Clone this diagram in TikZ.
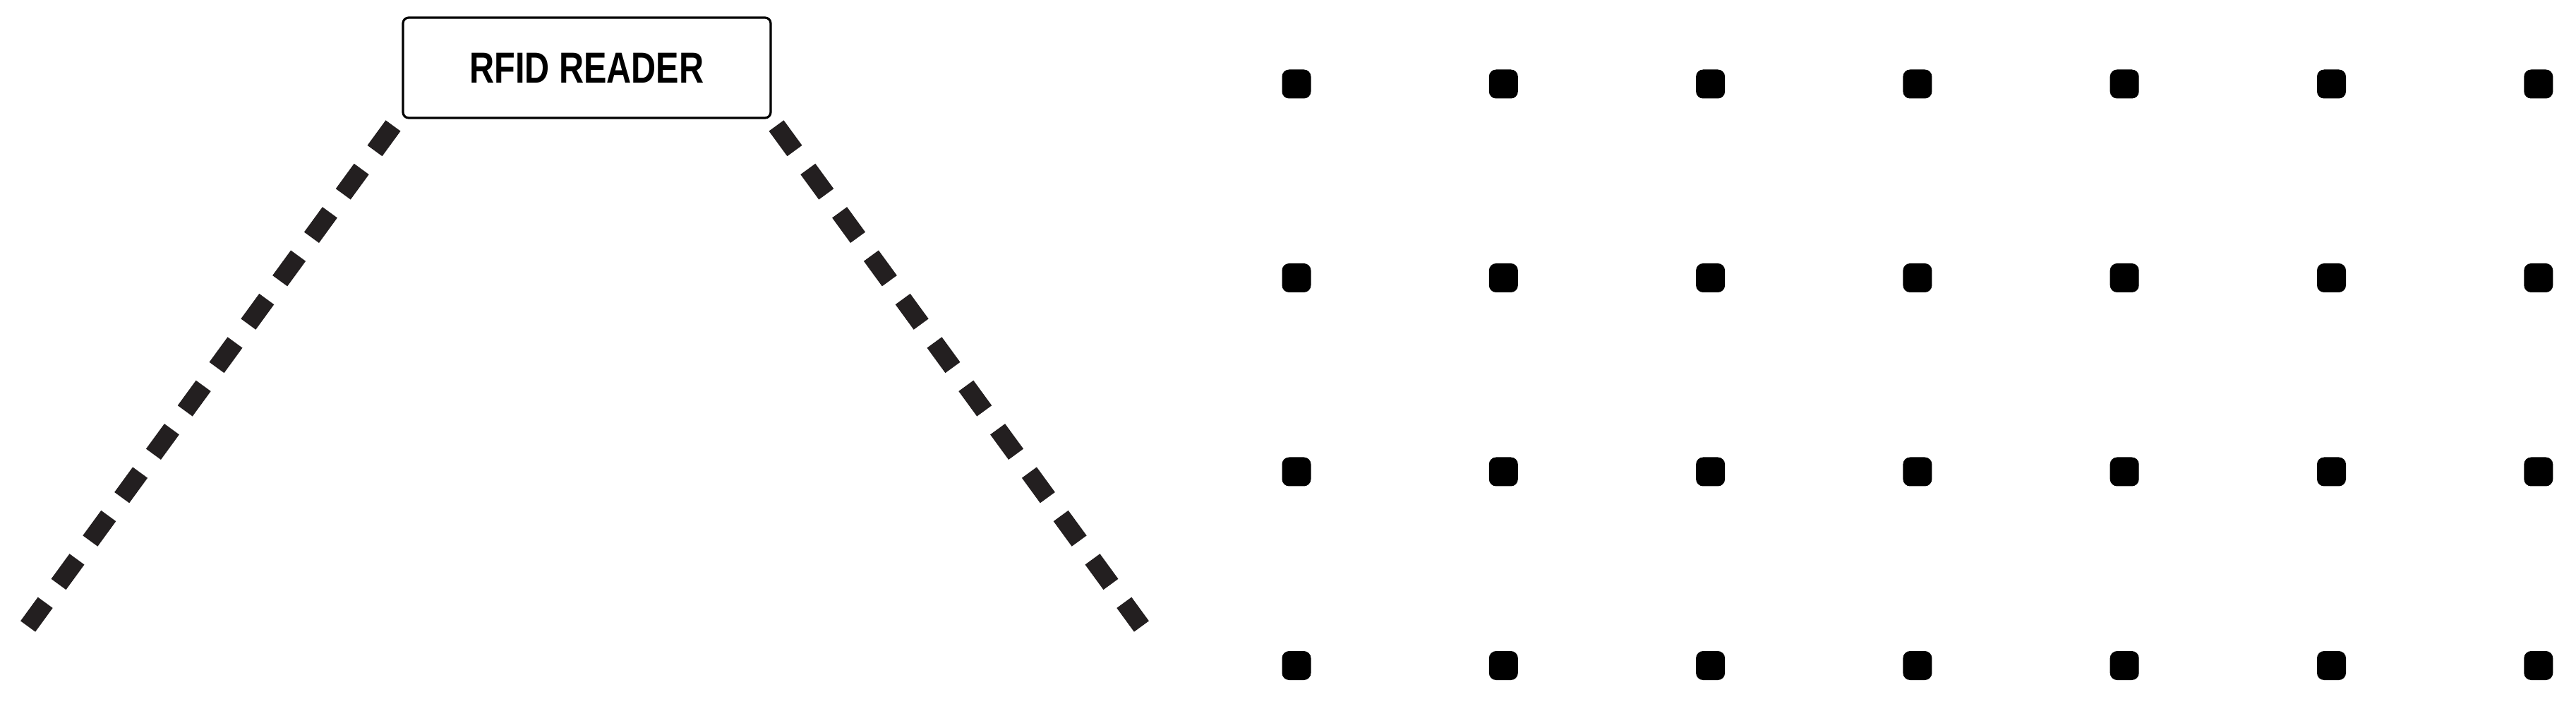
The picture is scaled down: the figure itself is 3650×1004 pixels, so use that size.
\documentclass[tikz,border=0pt]{standalone}
\usepackage{fontspec}
\usepackage{graphicx}
\setmainfont{Liberation Sans}
\definecolor{dashink}{HTML}{231F20}
\begin{document}
\begin{tikzpicture}[x=0.1mm,y=-0.1mm,
  readerbox/.style={draw=black, line width=0.32mm, rounded corners=0.8mm,
    minimum width=52.1mm, minimum height=14.2mm, inner sep=0pt,
    font=\bfseries\fontsize{17.5pt}{20pt}\selectfont},
  beam/.style={draw=dashink, line width=2.6mm, line cap=butt,
    dash pattern=on 4.4mm off 3.2mm},
  tagdot/.style={fill=black, draw=none, rounded corners=1mm,
    minimum size=4.1mm, inner sep=0pt}]
\useasboundingbox (0,0) rectangle (3650,1004);
\node[readerbox] (reader) at (831.5,96) {\scalebox{0.79}[1]{RFID READER}};
\coordinate (lt) at (557,178);
\coordinate (lb) at (39.6,887);
\coordinate (rt) at (1100,178);
\coordinate (rb) at (1617.4,887);
\draw[beam] (lt) -- (lb);
\draw[beam] (rt) -- (rb);
\foreach \c in {0,...,6}{
  \foreach \r in {0,...,3}{
    \node[tagdot] (d-\r-\c) at ({1837+293.3*\c},{119+274.5*\r}) {};
  }
}
\end{tikzpicture}
\end{document}
